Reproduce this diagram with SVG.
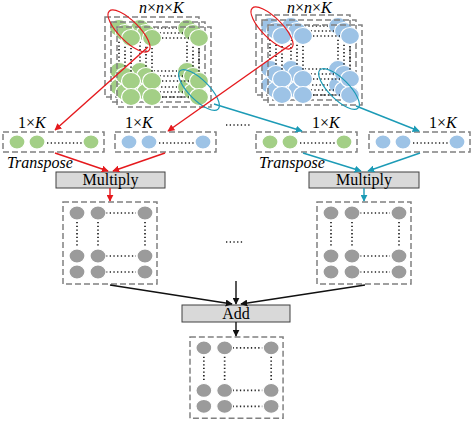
<svg xmlns="http://www.w3.org/2000/svg" xmlns:xlink="http://www.w3.org/1999/xlink" width="474" height="424" viewBox="0 0 474 424">
<style>
.dash{fill:none;stroke:#808080;stroke-width:1.5;stroke-dasharray:6 3}
.dot{fill:none;stroke:#222;stroke-width:1.7;stroke-dasharray:1.3 2.4}
.lbl{font-family:"Liberation Serif",serif;font-size:16px;fill:#000}
.op{fill:#d9d9d9;stroke:#404040;stroke-width:1}
.red{stroke:#e5191d;stroke-width:1.4;fill:none;marker-end:url(#ar)}
.cy{stroke:#1c9bb6;stroke-width:1.4;fill:none;marker-end:url(#ac)}
.bk{stroke:#111;stroke-width:1.4;fill:none;marker-end:url(#ab)}
.g{fill:#a3cf86}
.b{fill:#9dc3e6}
.gr{fill:#9b9b9b}
</style>
<defs>
<marker id="ar" viewBox="0 0 10 10" refX="9" refY="5" markerWidth="7" markerHeight="7" orient="auto" markerUnits="userSpaceOnUse"><path d="M0,0 L10,5 L0,10 z" fill="#e5191d"/></marker>
<marker id="ac" viewBox="0 0 10 10" refX="9" refY="5" markerWidth="7" markerHeight="7" orient="auto" markerUnits="userSpaceOnUse"><path d="M0,0 L10,5 L0,10 z" fill="#1c9bb6"/></marker>
<marker id="ab" viewBox="0 0 10 10" refX="9" refY="5" markerWidth="7" markerHeight="7" orient="auto" markerUnits="userSpaceOnUse"><path d="M0,0 L10,5 L0,10 z" fill="#111"/></marker>
<g id="grid">
<rect class="dash" x="0" y="0" width="94" height="82"/>
<path class="dot" d="M43,11 H73 M43,54 H73 M43,70 H73 M14,20 V46 M35,20 V46 M82,20 V46"/>
<g stroke="#fff" stroke-width="1.2">
<ellipse cx="14" cy="11" rx="8" ry="7"/><ellipse cx="35" cy="11" rx="8" ry="7"/><ellipse cx="82" cy="11" rx="8" ry="7"/>
<ellipse cx="14" cy="54" rx="8" ry="7"/><ellipse cx="35" cy="54" rx="8" ry="7"/><ellipse cx="82" cy="54" rx="8" ry="7"/>
<ellipse cx="14" cy="70" rx="8" ry="7"/><ellipse cx="35" cy="70" rx="8" ry="7"/><ellipse cx="82" cy="70" rx="8" ry="7"/>
</g>
</g>
<g id="tgrid">
<rect class="dash" x="0" y="0" width="94" height="80"/>
<path class="dot" d="M45,11 H72 M45,54 H72 M45,70 H72 M14,21 V45 M35,21 V45 M82,21 V45"/>
<g stroke="#fff" stroke-width="1.2">
<ellipse cx="14" cy="11" rx="9.5" ry="8.5"/><ellipse cx="35" cy="11" rx="9.5" ry="8.5"/><ellipse cx="82" cy="11" rx="9.5" ry="8.5"/>
<ellipse cx="14" cy="54" rx="9.5" ry="8.5"/><ellipse cx="35" cy="54" rx="9.5" ry="8.5"/><ellipse cx="82" cy="54" rx="9.5" ry="8.5"/>
<ellipse cx="14" cy="70" rx="9.5" ry="8.5"/><ellipse cx="35" cy="70" rx="9.5" ry="8.5"/><ellipse cx="82" cy="70" rx="9.5" ry="8.5"/>
</g>
</g>
<g id="vec">
<rect class="dash" x="0" y="0" width="101" height="20"/>
<path class="dot" d="M44,11 H80"/>
<g stroke="#fff" stroke-width="1.2">
<ellipse cx="14" cy="10" rx="8" ry="7"/><ellipse cx="34" cy="10" rx="8" ry="7"/><ellipse cx="88" cy="10" rx="8" ry="7"/>
</g>
</g>
</defs>

<g id="tensor-green">
<text class="lbl" x="139" y="13"><tspan font-style="italic">n</tspan>×<tspan font-style="italic">n</tspan>×<tspan font-style="italic">K</tspan></text>
<use xlink:href="#tgrid" class="g" transform="translate(105,17)"/>
<use xlink:href="#tgrid" class="g" transform="translate(111,22)"/>
<use xlink:href="#tgrid" class="g" transform="translate(117,27)"/>
<ellipse cx="129" cy="31" rx="28" ry="10" transform="rotate(45 129 31)" fill="none" stroke="#e5191d" stroke-width="1.2"/>
<ellipse cx="199" cy="90" rx="27" ry="10" transform="rotate(45 199 90)" fill="none" stroke="#1c9bb6" stroke-width="1.2"/>
</g>

<g id="tensor-blue">
<text class="lbl" x="287" y="13"><tspan font-style="italic">n</tspan>×<tspan font-style="italic">n</tspan>×<tspan font-style="italic">K</tspan></text>
<use xlink:href="#tgrid" class="b" transform="translate(256,15)"/>
<use xlink:href="#tgrid" class="b" transform="translate(262,20)"/>
<use xlink:href="#tgrid" class="b" transform="translate(268,25)"/>
<ellipse cx="272" cy="28" rx="28" ry="10" transform="rotate(45 272 28)" fill="none" stroke="#e5191d" stroke-width="1.2"/>
<ellipse cx="339" cy="89" rx="27" ry="10" transform="rotate(45 339 89)" fill="none" stroke="#1c9bb6" stroke-width="1.2"/>
</g>

<g id="vec-1">
<text class="lbl" x="18" y="128">1×<tspan font-style="italic">K</tspan></text>
<use xlink:href="#vec" class="g" transform="translate(3,132)"/>
<text class="lbl" x="7" y="168" font-style="italic">Transpose</text>
</g>
<g id="vec-2">
<text class="lbl" x="125" y="128">1×<tspan font-style="italic">K</tspan></text>
<use xlink:href="#vec" class="b" transform="translate(115,132)"/>
</g>
<g id="vec-3">
<text class="lbl" x="312" y="128">1×<tspan font-style="italic">K</tspan></text>
<use xlink:href="#vec" class="g" transform="translate(256,132)"/>
<text class="lbl" x="259" y="168" font-style="italic">Transpose</text>
</g>
<g id="vec-4">
<text class="lbl" x="429" y="128">1×<tspan font-style="italic">K</tspan></text>
<use xlink:href="#vec" class="b" transform="translate(369,132)"/>
</g>
<path class="dot" d="M226,125 H251 M226,242 H244"/>

<g id="multiply-1">
<rect class="op" x="56" y="172" width="109" height="16"/>
<text class="lbl" x="110.5" y="185" text-anchor="middle" font-size="14">Multiply</text>
</g>
<g id="multiply-2">
<rect class="op" x="309" y="172" width="110" height="16"/>
<text class="lbl" x="364" y="185" text-anchor="middle" font-size="14">Multiply</text>
</g>

<g id="matrix-1"><use xlink:href="#grid" class="gr" transform="translate(63,202)"/></g>
<g id="matrix-2"><use xlink:href="#grid" class="gr" transform="translate(317,202)"/></g>

<g id="add">
<rect class="op" x="182" y="305" width="108" height="17"/>
<text class="lbl" x="236" y="318.5" text-anchor="middle" font-size="15">Add</text>
</g>

<g id="result"><use xlink:href="#grid" class="gr" transform="translate(190,337) scale(0.99,0.99)"/></g>

<g id="connectors">
<path class="red" d="M148,47 L55,130"/>
<path class="red" d="M290,45 L168,131"/>
<path class="cy" d="M214,104 L302,131"/>
<path class="cy" d="M356,106 L419,131"/>
<path class="red" d="M55,153 L108,171"/>
<path class="red" d="M165,153 L113,171"/>
<path class="cy" d="M303,153 L361,171"/>
<path class="cy" d="M420,153 L368,171"/>
<path class="red" d="M110,188 L110,201"/>
<path class="cy" d="M364,188 L364,201"/>
<path class="bk" d="M110,285 L232,304"/>
<path class="bk" d="M236,281 L236,304"/>
<path class="bk" d="M365,285 L241,304"/>
<path class="bk" d="M236,322 L236,336"/>
</g>
</svg>
